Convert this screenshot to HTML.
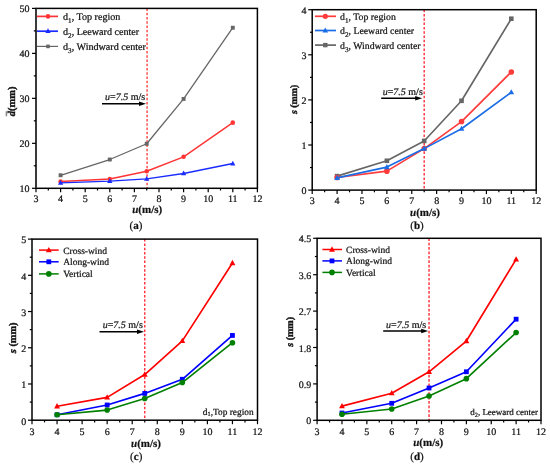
<!DOCTYPE html>
<html><head><meta charset="utf-8"><style>
html,body{margin:0;padding:0;background:#fff;}
body{width:550px;height:467px;overflow:hidden;}
svg{display:block;will-change:transform;}
text{font-family:"Liberation Serif", serif;fill:#111;stroke:#111;stroke-width:0.22px;text-rendering:geometricPrecision;}
</style></head><body>
<svg width="550" height="467" viewBox="0 0 550 467">
<rect width="550" height="467" fill="#fff"/>
<line x1="147.10" y1="8.40" x2="147.10" y2="188.30" stroke="#ff6464" stroke-width="1.7" stroke-dasharray="2.5,1.75"/>
<polyline points="60.60,175.26 109.80,159.52 146.70,143.77 183.60,98.93 232.80,27.74" fill="none" stroke="#666666" stroke-width="1.3" stroke-linejoin="round"/>
<rect x="58.65" y="173.31" width="3.90" height="3.90" fill="#666666"/>
<rect x="107.85" y="157.57" width="3.90" height="3.90" fill="#666666"/>
<rect x="144.75" y="141.82" width="3.90" height="3.90" fill="#666666"/>
<rect x="181.65" y="96.98" width="3.90" height="3.90" fill="#666666"/>
<rect x="230.85" y="25.79" width="3.90" height="3.90" fill="#666666"/>
<polyline points="60.60,181.55 109.80,179.08 146.70,171.21 183.60,156.82 232.80,122.64" fill="none" stroke="#ff3535" stroke-width="1.45" stroke-linejoin="round"/>
<circle cx="60.60" cy="181.55" r="2.30" fill="#ff3535"/>
<circle cx="109.80" cy="179.08" r="2.30" fill="#ff3535"/>
<circle cx="146.70" cy="171.21" r="2.30" fill="#ff3535"/>
<circle cx="183.60" cy="156.82" r="2.30" fill="#ff3535"/>
<circle cx="232.80" cy="122.64" r="2.30" fill="#ff3535"/>
<polyline points="60.60,182.90 109.80,181.10 146.70,178.86 183.60,173.46 232.80,163.56" fill="none" stroke="#1a2cff" stroke-width="1.45" stroke-linejoin="round"/>
<path d="M60.60,180.05 L63.22,184.80 L57.97,184.80 Z" fill="#1a2cff"/>
<path d="M109.80,178.25 L112.42,183.00 L107.17,183.00 Z" fill="#1a2cff"/>
<path d="M146.70,176.01 L149.32,180.76 L144.07,180.76 Z" fill="#1a2cff"/>
<path d="M183.60,170.61 L186.22,175.36 L180.97,175.36 Z" fill="#1a2cff"/>
<path d="M232.80,160.71 L235.42,165.46 L230.17,165.46 Z" fill="#1a2cff"/>
<rect x="36.00" y="8.40" width="221.40" height="179.90" fill="none" stroke="#000" stroke-width="1.5"/>
<line x1="36.00" y1="8.40" x2="36.00" y2="188.30" stroke="#3a3a3a" stroke-width="1.9"/>
<line x1="36.00" y1="188.30" x2="36.00" y2="192.30" stroke="#000" stroke-width="1.2"/>
<line x1="48.30" y1="188.30" x2="48.30" y2="190.50" stroke="#000" stroke-width="1.2"/>
<line x1="60.60" y1="188.30" x2="60.60" y2="192.30" stroke="#000" stroke-width="1.2"/>
<line x1="72.90" y1="188.30" x2="72.90" y2="190.50" stroke="#000" stroke-width="1.2"/>
<line x1="85.20" y1="188.30" x2="85.20" y2="192.30" stroke="#000" stroke-width="1.2"/>
<line x1="97.50" y1="188.30" x2="97.50" y2="190.50" stroke="#000" stroke-width="1.2"/>
<line x1="109.80" y1="188.30" x2="109.80" y2="192.30" stroke="#000" stroke-width="1.2"/>
<line x1="122.10" y1="188.30" x2="122.10" y2="190.50" stroke="#000" stroke-width="1.2"/>
<line x1="134.40" y1="188.30" x2="134.40" y2="192.30" stroke="#000" stroke-width="1.2"/>
<line x1="146.70" y1="188.30" x2="146.70" y2="190.50" stroke="#000" stroke-width="1.2"/>
<line x1="159.00" y1="188.30" x2="159.00" y2="192.30" stroke="#000" stroke-width="1.2"/>
<line x1="171.30" y1="188.30" x2="171.30" y2="190.50" stroke="#000" stroke-width="1.2"/>
<line x1="183.60" y1="188.30" x2="183.60" y2="192.30" stroke="#000" stroke-width="1.2"/>
<line x1="195.90" y1="188.30" x2="195.90" y2="190.50" stroke="#000" stroke-width="1.2"/>
<line x1="208.20" y1="188.30" x2="208.20" y2="192.30" stroke="#000" stroke-width="1.2"/>
<line x1="220.50" y1="188.30" x2="220.50" y2="190.50" stroke="#000" stroke-width="1.2"/>
<line x1="232.80" y1="188.30" x2="232.80" y2="192.30" stroke="#000" stroke-width="1.2"/>
<line x1="245.10" y1="188.30" x2="245.10" y2="190.50" stroke="#000" stroke-width="1.2"/>
<line x1="257.40" y1="188.30" x2="257.40" y2="192.30" stroke="#000" stroke-width="1.2"/>
<line x1="36.00" y1="188.30" x2="32.00" y2="188.30" stroke="#000" stroke-width="1.2"/>
<line x1="36.00" y1="165.81" x2="33.80" y2="165.81" stroke="#000" stroke-width="1.2"/>
<line x1="36.00" y1="143.33" x2="32.00" y2="143.33" stroke="#000" stroke-width="1.2"/>
<line x1="36.00" y1="120.84" x2="33.80" y2="120.84" stroke="#000" stroke-width="1.2"/>
<line x1="36.00" y1="98.35" x2="32.00" y2="98.35" stroke="#000" stroke-width="1.2"/>
<line x1="36.00" y1="75.86" x2="33.80" y2="75.86" stroke="#000" stroke-width="1.2"/>
<line x1="36.00" y1="53.38" x2="32.00" y2="53.38" stroke="#000" stroke-width="1.2"/>
<line x1="36.00" y1="30.89" x2="33.80" y2="30.89" stroke="#000" stroke-width="1.2"/>
<line x1="36.00" y1="8.40" x2="32.00" y2="8.40" stroke="#000" stroke-width="1.2"/>
<text x="36.00" y="202.20" text-anchor="middle" font-size="10">3</text>
<text x="60.60" y="202.20" text-anchor="middle" font-size="10">4</text>
<text x="85.20" y="202.20" text-anchor="middle" font-size="10">5</text>
<text x="109.80" y="202.20" text-anchor="middle" font-size="10">6</text>
<text x="134.40" y="202.20" text-anchor="middle" font-size="10">7</text>
<text x="159.00" y="202.20" text-anchor="middle" font-size="10">8</text>
<text x="183.60" y="202.20" text-anchor="middle" font-size="10">9</text>
<text x="208.20" y="202.20" text-anchor="middle" font-size="10">10</text>
<text x="232.80" y="202.20" text-anchor="middle" font-size="10">11</text>
<text x="257.40" y="202.20" text-anchor="middle" font-size="10">12</text>
<text x="29.60" y="191.70" text-anchor="end" font-size="10">10</text>
<text x="29.60" y="146.73" text-anchor="end" font-size="10">20</text>
<text x="29.60" y="101.75" text-anchor="end" font-size="10">30</text>
<text x="29.60" y="56.77" text-anchor="end" font-size="10">40</text>
<text x="29.60" y="11.80" text-anchor="end" font-size="10">50</text>
<text x="147.20" y="213.20" text-anchor="middle" font-size="11" font-weight="bold"><tspan font-style="italic">u</tspan>(m/s)</text>
<g transform="translate(15.40,101.30) rotate(-90)"><text text-anchor="middle" font-size="10.5" font-weight="bold" style="stroke-width:0.4px"><tspan font-style="italic">d</tspan>(mm)</text><line x1="-15.0" y1="-9.0" x2="-9.9" y2="-9.0" stroke="#8a8a8a" stroke-width="1.5"/></g>
<text x="136.00" y="229.30" text-anchor="middle" font-size="11">(<tspan font-weight="bold">a</tspan>)</text>
<line x1="102.00" y1="103.80" x2="141.00" y2="103.80" stroke="#000" stroke-width="1.6"/>
<path d="M146.00,103.80 L139.00,101.50 L139.00,106.10 Z" fill="#000"/>
<text x="105.00" y="100.40" font-size="10"><tspan font-style="italic">u</tspan>=<tspan font-style="italic">7.5</tspan> m/s</text>
<line x1="37.00" y1="16.40" x2="58.00" y2="16.40" stroke="#ff3535" stroke-width="1.7"/>
<circle cx="48.00" cy="16.40" r="2.30" fill="#ff3535"/>
<text x="63.00" y="19.80" font-size="10.1" font-family='"Liberation Serif", serif'>d<tspan font-size="7.2" dy="3.1">1</tspan><tspan dy="-3.1">, Top region</tspan></text>
<line x1="37.00" y1="31.20" x2="58.00" y2="31.20" stroke="#1a2cff" stroke-width="1.7"/>
<path d="M48.00,28.35 L50.62,33.10 L45.38,33.10 Z" fill="#1a2cff"/>
<text x="63.00" y="34.60" font-size="10.1" font-family='"Liberation Serif", serif'>d<tspan font-size="7.2" dy="3.1">2</tspan><tspan dy="-3.1">, Leeward center</tspan></text>
<line x1="37.00" y1="46.40" x2="58.00" y2="46.40" stroke="#666666" stroke-width="1.2"/>
<rect x="46.20" y="44.60" width="3.60" height="3.60" fill="#666666"/>
<text x="63.00" y="49.80" font-size="10.1" font-family='"Liberation Serif", serif'>d<tspan font-size="7.2" dy="3.1">3</tspan><tspan dy="-3.1">, Windward center</tspan></text>
<line x1="424.20" y1="9.70" x2="424.20" y2="190.10" stroke="#ff3340" stroke-width="1.45" stroke-dasharray="2.5,1.8"/>
<polyline points="337.09,176.12 386.87,160.78 424.20,140.94 461.53,100.80 511.31,18.72" fill="none" stroke="#666666" stroke-width="1.65" stroke-linejoin="round"/>
<rect x="334.79" y="173.82" width="4.60" height="4.60" fill="#666666"/>
<rect x="384.57" y="158.48" width="4.60" height="4.60" fill="#666666"/>
<rect x="421.90" y="138.64" width="4.60" height="4.60" fill="#666666"/>
<rect x="459.23" y="98.50" width="4.60" height="4.60" fill="#666666"/>
<rect x="509.01" y="16.42" width="4.60" height="4.60" fill="#666666"/>
<polyline points="337.09,177.47 386.87,171.16 424.20,148.61 461.53,121.55 511.31,71.94" fill="none" stroke="#ff3b3b" stroke-width="1.65" stroke-linejoin="round"/>
<circle cx="337.09" cy="177.47" r="2.80" fill="#ff3b3b"/>
<circle cx="386.87" cy="171.16" r="2.80" fill="#ff3b3b"/>
<circle cx="424.20" cy="148.61" r="2.80" fill="#ff3b3b"/>
<circle cx="461.53" cy="121.55" r="2.80" fill="#ff3b3b"/>
<circle cx="511.31" cy="71.94" r="2.80" fill="#ff3b3b"/>
<polyline points="337.09,177.92 386.87,167.10 424.20,148.61 461.53,128.76 511.31,92.23" fill="none" stroke="#1b6de6" stroke-width="1.65" stroke-linejoin="round"/>
<path d="M337.09,174.84 L339.92,179.97 L334.25,179.97 Z" fill="#1b6de6"/>
<path d="M386.87,164.02 L389.70,169.15 L384.03,169.15 Z" fill="#1b6de6"/>
<path d="M424.20,145.53 L427.04,150.66 L421.37,150.66 Z" fill="#1b6de6"/>
<path d="M461.53,125.69 L464.37,130.82 L458.70,130.82 Z" fill="#1b6de6"/>
<path d="M511.31,89.15 L514.15,94.28 L508.48,94.28 Z" fill="#1b6de6"/>
<rect x="312.20" y="9.70" width="224.00" height="180.40" fill="none" stroke="#000" stroke-width="1.5"/>
<line x1="312.20" y1="190.10" x2="312.20" y2="194.10" stroke="#000" stroke-width="1.2"/>
<line x1="324.64" y1="190.10" x2="324.64" y2="192.30" stroke="#000" stroke-width="1.2"/>
<line x1="337.09" y1="190.10" x2="337.09" y2="194.10" stroke="#000" stroke-width="1.2"/>
<line x1="349.53" y1="190.10" x2="349.53" y2="192.30" stroke="#000" stroke-width="1.2"/>
<line x1="361.98" y1="190.10" x2="361.98" y2="194.10" stroke="#000" stroke-width="1.2"/>
<line x1="374.42" y1="190.10" x2="374.42" y2="192.30" stroke="#000" stroke-width="1.2"/>
<line x1="386.87" y1="190.10" x2="386.87" y2="194.10" stroke="#000" stroke-width="1.2"/>
<line x1="399.31" y1="190.10" x2="399.31" y2="192.30" stroke="#000" stroke-width="1.2"/>
<line x1="411.76" y1="190.10" x2="411.76" y2="194.10" stroke="#000" stroke-width="1.2"/>
<line x1="424.20" y1="190.10" x2="424.20" y2="192.30" stroke="#000" stroke-width="1.2"/>
<line x1="436.64" y1="190.10" x2="436.64" y2="194.10" stroke="#000" stroke-width="1.2"/>
<line x1="449.09" y1="190.10" x2="449.09" y2="192.30" stroke="#000" stroke-width="1.2"/>
<line x1="461.53" y1="190.10" x2="461.53" y2="194.10" stroke="#000" stroke-width="1.2"/>
<line x1="473.98" y1="190.10" x2="473.98" y2="192.30" stroke="#000" stroke-width="1.2"/>
<line x1="486.42" y1="190.10" x2="486.42" y2="194.10" stroke="#000" stroke-width="1.2"/>
<line x1="498.87" y1="190.10" x2="498.87" y2="192.30" stroke="#000" stroke-width="1.2"/>
<line x1="511.31" y1="190.10" x2="511.31" y2="194.10" stroke="#000" stroke-width="1.2"/>
<line x1="523.76" y1="190.10" x2="523.76" y2="192.30" stroke="#000" stroke-width="1.2"/>
<line x1="536.20" y1="190.10" x2="536.20" y2="194.10" stroke="#000" stroke-width="1.2"/>
<line x1="312.20" y1="190.10" x2="308.20" y2="190.10" stroke="#000" stroke-width="1.2"/>
<line x1="312.20" y1="167.55" x2="310.00" y2="167.55" stroke="#000" stroke-width="1.2"/>
<line x1="312.20" y1="145.00" x2="308.20" y2="145.00" stroke="#000" stroke-width="1.2"/>
<line x1="312.20" y1="122.45" x2="310.00" y2="122.45" stroke="#000" stroke-width="1.2"/>
<line x1="312.20" y1="99.90" x2="308.20" y2="99.90" stroke="#000" stroke-width="1.2"/>
<line x1="312.20" y1="77.35" x2="310.00" y2="77.35" stroke="#000" stroke-width="1.2"/>
<line x1="312.20" y1="54.80" x2="308.20" y2="54.80" stroke="#000" stroke-width="1.2"/>
<line x1="312.20" y1="32.25" x2="310.00" y2="32.25" stroke="#000" stroke-width="1.2"/>
<line x1="312.20" y1="9.70" x2="308.20" y2="9.70" stroke="#000" stroke-width="1.2"/>
<text x="312.20" y="204.30" text-anchor="middle" font-size="10">3</text>
<text x="337.09" y="204.30" text-anchor="middle" font-size="10">4</text>
<text x="361.98" y="204.30" text-anchor="middle" font-size="10">5</text>
<text x="386.87" y="204.30" text-anchor="middle" font-size="10">6</text>
<text x="411.76" y="204.30" text-anchor="middle" font-size="10">7</text>
<text x="436.64" y="204.30" text-anchor="middle" font-size="10">8</text>
<text x="461.53" y="204.30" text-anchor="middle" font-size="10">9</text>
<text x="486.42" y="204.30" text-anchor="middle" font-size="10">10</text>
<text x="511.31" y="204.30" text-anchor="middle" font-size="10">11</text>
<text x="536.20" y="204.30" text-anchor="middle" font-size="10">12</text>
<text x="306.40" y="194.20" text-anchor="end" font-size="10">0</text>
<text x="306.40" y="149.10" text-anchor="end" font-size="10">1</text>
<text x="306.40" y="104.00" text-anchor="end" font-size="10">2</text>
<text x="306.40" y="58.90" text-anchor="end" font-size="10">3</text>
<text x="306.40" y="13.80" text-anchor="end" font-size="10">4</text>
<text x="425.00" y="215.50" text-anchor="middle" font-size="11" font-weight="bold"><tspan font-style="italic">u</tspan>(m/s)</text>
<text transform="translate(296.80,99.40) rotate(-90)" text-anchor="middle" font-size="9.8" font-weight="bold" style="stroke-width:0.4px"><tspan font-style="italic">s</tspan> (mm)</text>
<text x="417.00" y="228.60" text-anchor="middle" font-size="11">(<tspan font-weight="bold">b</tspan>)</text>
<line x1="381.20" y1="98.20" x2="417.20" y2="98.20" stroke="#000" stroke-width="1.6"/>
<path d="M422.20,98.20 L415.20,95.90 L415.20,100.50 Z" fill="#000"/>
<text x="382.70" y="95.00" font-size="10"><tspan font-style="italic">u</tspan>=<tspan font-style="italic">7.5</tspan> m/s</text>
<line x1="315.00" y1="16.30" x2="336.00" y2="16.30" stroke="#ff3b3b" stroke-width="1.7"/>
<circle cx="325.30" cy="16.30" r="2.60" fill="#ff3b3b"/>
<text x="340.00" y="19.70" font-size="9.8" font-family='"Liberation Serif", serif'>d<tspan font-size="7.2" dy="3.1">1</tspan><tspan dy="-3.1">, Top region</tspan></text>
<line x1="315.00" y1="30.50" x2="336.00" y2="30.50" stroke="#1b6de6" stroke-width="1.7"/>
<path d="M325.30,27.42 L328.13,32.55 L322.47,32.55 Z" fill="#1b6de6"/>
<text x="340.00" y="33.90" font-size="9.8" font-family='"Liberation Serif", serif'>d<tspan font-size="7.2" dy="3.1">2</tspan><tspan dy="-3.1">, Leeward center</tspan></text>
<line x1="315.00" y1="45.10" x2="336.00" y2="45.10" stroke="#666666" stroke-width="1.7"/>
<rect x="323.10" y="42.90" width="4.40" height="4.40" fill="#666666"/>
<text x="340.00" y="48.50" font-size="9.8" font-family='"Liberation Serif", serif'>d<tspan font-size="7.2" dy="3.1">3</tspan><tspan dy="-3.1">, Windward center</tspan></text>
<line x1="144.75" y1="239.10" x2="144.75" y2="420.20" stroke="#ff3340" stroke-width="1.45" stroke-dasharray="2.5,1.8"/>
<polyline points="57.06,406.26 107.17,397.38 144.75,374.56 182.33,340.88 232.44,263.01" fill="none" stroke="#ff0000" stroke-width="1.65" stroke-linejoin="round"/>
<path d="M57.06,403.06 L60.00,408.38 L54.12,408.38 Z" fill="#ff0000"/>
<path d="M107.17,394.19 L110.11,399.51 L104.23,399.51 Z" fill="#ff0000"/>
<path d="M144.75,371.37 L147.69,376.69 L141.81,376.69 Z" fill="#ff0000"/>
<path d="M182.33,337.69 L185.27,343.01 L179.39,343.01 Z" fill="#ff0000"/>
<path d="M232.44,259.81 L235.38,265.13 L229.50,265.13 Z" fill="#ff0000"/>
<polyline points="57.06,414.77 107.17,404.99 144.75,393.40 182.33,379.27 232.44,335.45" fill="none" stroke="#0000ff" stroke-width="1.65" stroke-linejoin="round"/>
<rect x="54.66" y="412.37" width="4.80" height="4.80" fill="#0000ff"/>
<rect x="104.77" y="402.59" width="4.80" height="4.80" fill="#0000ff"/>
<rect x="142.35" y="391.00" width="4.80" height="4.80" fill="#0000ff"/>
<rect x="179.93" y="376.87" width="4.80" height="4.80" fill="#0000ff"/>
<rect x="230.04" y="333.05" width="4.80" height="4.80" fill="#0000ff"/>
<polyline points="57.06,414.77 107.17,410.06 144.75,398.47 182.33,382.53 232.44,342.69" fill="none" stroke="#008000" stroke-width="1.65" stroke-linejoin="round"/>
<circle cx="57.06" cy="414.77" r="2.80" fill="#008000"/>
<circle cx="107.17" cy="410.06" r="2.80" fill="#008000"/>
<circle cx="144.75" cy="398.47" r="2.80" fill="#008000"/>
<circle cx="182.33" cy="382.53" r="2.80" fill="#008000"/>
<circle cx="232.44" cy="342.69" r="2.80" fill="#008000"/>
<rect x="32.00" y="239.10" width="225.50" height="181.10" fill="none" stroke="#000" stroke-width="1.5"/>
<line x1="32.00" y1="420.20" x2="32.00" y2="424.20" stroke="#000" stroke-width="1.2"/>
<line x1="44.53" y1="420.20" x2="44.53" y2="422.40" stroke="#000" stroke-width="1.2"/>
<line x1="57.06" y1="420.20" x2="57.06" y2="424.20" stroke="#000" stroke-width="1.2"/>
<line x1="69.58" y1="420.20" x2="69.58" y2="422.40" stroke="#000" stroke-width="1.2"/>
<line x1="82.11" y1="420.20" x2="82.11" y2="424.20" stroke="#000" stroke-width="1.2"/>
<line x1="94.64" y1="420.20" x2="94.64" y2="422.40" stroke="#000" stroke-width="1.2"/>
<line x1="107.17" y1="420.20" x2="107.17" y2="424.20" stroke="#000" stroke-width="1.2"/>
<line x1="119.69" y1="420.20" x2="119.69" y2="422.40" stroke="#000" stroke-width="1.2"/>
<line x1="132.22" y1="420.20" x2="132.22" y2="424.20" stroke="#000" stroke-width="1.2"/>
<line x1="144.75" y1="420.20" x2="144.75" y2="422.40" stroke="#000" stroke-width="1.2"/>
<line x1="157.28" y1="420.20" x2="157.28" y2="424.20" stroke="#000" stroke-width="1.2"/>
<line x1="169.81" y1="420.20" x2="169.81" y2="422.40" stroke="#000" stroke-width="1.2"/>
<line x1="182.33" y1="420.20" x2="182.33" y2="424.20" stroke="#000" stroke-width="1.2"/>
<line x1="194.86" y1="420.20" x2="194.86" y2="422.40" stroke="#000" stroke-width="1.2"/>
<line x1="207.39" y1="420.20" x2="207.39" y2="424.20" stroke="#000" stroke-width="1.2"/>
<line x1="219.92" y1="420.20" x2="219.92" y2="422.40" stroke="#000" stroke-width="1.2"/>
<line x1="232.44" y1="420.20" x2="232.44" y2="424.20" stroke="#000" stroke-width="1.2"/>
<line x1="244.97" y1="420.20" x2="244.97" y2="422.40" stroke="#000" stroke-width="1.2"/>
<line x1="257.50" y1="420.20" x2="257.50" y2="424.20" stroke="#000" stroke-width="1.2"/>
<line x1="32.00" y1="420.20" x2="28.00" y2="420.20" stroke="#000" stroke-width="1.2"/>
<line x1="32.00" y1="402.09" x2="29.80" y2="402.09" stroke="#000" stroke-width="1.2"/>
<line x1="32.00" y1="383.98" x2="28.00" y2="383.98" stroke="#000" stroke-width="1.2"/>
<line x1="32.00" y1="365.87" x2="29.80" y2="365.87" stroke="#000" stroke-width="1.2"/>
<line x1="32.00" y1="347.76" x2="28.00" y2="347.76" stroke="#000" stroke-width="1.2"/>
<line x1="32.00" y1="329.65" x2="29.80" y2="329.65" stroke="#000" stroke-width="1.2"/>
<line x1="32.00" y1="311.54" x2="28.00" y2="311.54" stroke="#000" stroke-width="1.2"/>
<line x1="32.00" y1="293.43" x2="29.80" y2="293.43" stroke="#000" stroke-width="1.2"/>
<line x1="32.00" y1="275.32" x2="28.00" y2="275.32" stroke="#000" stroke-width="1.2"/>
<line x1="32.00" y1="257.21" x2="29.80" y2="257.21" stroke="#000" stroke-width="1.2"/>
<line x1="32.00" y1="239.10" x2="28.00" y2="239.10" stroke="#000" stroke-width="1.2"/>
<text x="32.00" y="434.60" text-anchor="middle" font-size="10">3</text>
<text x="57.06" y="434.60" text-anchor="middle" font-size="10">4</text>
<text x="82.11" y="434.60" text-anchor="middle" font-size="10">5</text>
<text x="107.17" y="434.60" text-anchor="middle" font-size="10">6</text>
<text x="132.22" y="434.60" text-anchor="middle" font-size="10">7</text>
<text x="157.28" y="434.60" text-anchor="middle" font-size="10">8</text>
<text x="182.33" y="434.60" text-anchor="middle" font-size="10">9</text>
<text x="207.39" y="434.60" text-anchor="middle" font-size="10">10</text>
<text x="232.44" y="434.60" text-anchor="middle" font-size="10">11</text>
<text x="257.50" y="434.60" text-anchor="middle" font-size="10">12</text>
<text x="26.20" y="424.50" text-anchor="end" font-size="10">0</text>
<text x="26.20" y="388.28" text-anchor="end" font-size="10">1</text>
<text x="26.20" y="352.06" text-anchor="end" font-size="10">2</text>
<text x="26.20" y="315.84" text-anchor="end" font-size="10">3</text>
<text x="26.20" y="279.62" text-anchor="end" font-size="10">4</text>
<text x="26.20" y="243.40" text-anchor="end" font-size="10">5</text>
<text x="146.00" y="446.50" text-anchor="middle" font-size="11" font-weight="bold"><tspan font-style="italic">u</tspan>(m/s)</text>
<text transform="translate(15.80,337.90) rotate(-90)" text-anchor="middle" font-size="10.3" font-weight="bold" style="stroke-width:0.4px"><tspan font-style="italic">s</tspan> (mm)</text>
<text x="136.20" y="460.10" text-anchor="middle" font-size="11">(<tspan font-weight="bold">c</tspan>)</text>
<line x1="99.50" y1="331.80" x2="139.00" y2="331.80" stroke="#000" stroke-width="1.6"/>
<path d="M144.00,331.80 L137.00,329.50 L137.00,334.10 Z" fill="#000"/>
<text x="102.70" y="328.40" font-size="10"><tspan font-style="italic">u</tspan>=<tspan font-style="italic">7.5</tspan> m/s</text>
<line x1="39.00" y1="250.10" x2="58.70" y2="250.10" stroke="#ff0000" stroke-width="1.5"/>
<path d="M48.80,246.91 L51.74,252.23 L45.86,252.23 Z" fill="#ff0000"/>
<text x="63.20" y="253.50" font-size="9.5" font-family='"Liberation Serif", serif'>Cross-wind</text>
<line x1="39.00" y1="261.80" x2="58.70" y2="261.80" stroke="#0000ff" stroke-width="1.5"/>
<rect x="46.40" y="259.40" width="4.80" height="4.80" fill="#0000ff"/>
<text x="63.20" y="265.20" font-size="9.5" font-family='"Liberation Serif", serif'>Along-wind</text>
<line x1="39.00" y1="273.90" x2="58.70" y2="273.90" stroke="#008000" stroke-width="1.5"/>
<circle cx="48.80" cy="273.90" r="2.80" fill="#008000"/>
<text x="63.20" y="277.30" font-size="9.5" font-family='"Liberation Serif", serif'>Vertical</text>
<text x="253.6" y="414.6" text-anchor="end" font-size="9.35">d<tspan font-size="6.3" dy="1.8">1</tspan><tspan dy="-1.8">,Top region</tspan></text>
<line x1="429.05" y1="238.30" x2="429.05" y2="420.30" stroke="#ff3a45" stroke-width="1.5" stroke-dasharray="2.7,1.7"/>
<polyline points="341.98,406.14 391.73,393.20 429.05,371.77 466.37,341.03 516.12,259.33" fill="none" stroke="#ff0000" stroke-width="1.65" stroke-linejoin="round"/>
<path d="M341.98,402.95 L344.92,408.27 L339.04,408.27 Z" fill="#ff0000"/>
<path d="M391.73,390.01 L394.67,395.33 L388.79,395.33 Z" fill="#ff0000"/>
<path d="M429.05,368.57 L431.99,373.89 L426.11,373.89 Z" fill="#ff0000"/>
<path d="M466.37,337.84 L469.31,343.16 L463.43,343.16 Z" fill="#ff0000"/>
<path d="M516.12,256.14 L519.06,261.46 L513.18,261.46 Z" fill="#ff0000"/>
<polyline points="341.98,413.02 391.73,403.31 429.05,387.94 466.37,371.77 516.12,319.19" fill="none" stroke="#0000ff" stroke-width="1.65" stroke-linejoin="round"/>
<rect x="339.58" y="410.62" width="4.80" height="4.80" fill="#0000ff"/>
<rect x="389.33" y="400.91" width="4.80" height="4.80" fill="#0000ff"/>
<rect x="426.65" y="385.54" width="4.80" height="4.80" fill="#0000ff"/>
<rect x="463.97" y="369.37" width="4.80" height="4.80" fill="#0000ff"/>
<rect x="513.72" y="316.79" width="4.80" height="4.80" fill="#0000ff"/>
<polyline points="341.98,414.23 391.73,408.98 429.05,396.03 466.37,378.64 516.12,332.54" fill="none" stroke="#008000" stroke-width="1.65" stroke-linejoin="round"/>
<circle cx="341.98" cy="414.23" r="2.80" fill="#008000"/>
<circle cx="391.73" cy="408.98" r="2.80" fill="#008000"/>
<circle cx="429.05" cy="396.03" r="2.80" fill="#008000"/>
<circle cx="466.37" cy="378.64" r="2.80" fill="#008000"/>
<circle cx="516.12" cy="332.54" r="2.80" fill="#008000"/>
<rect x="317.10" y="238.30" width="223.90" height="182.00" fill="none" stroke="#000" stroke-width="1.5"/>
<line x1="317.10" y1="420.30" x2="317.10" y2="424.30" stroke="#000" stroke-width="1.2"/>
<line x1="329.54" y1="420.30" x2="329.54" y2="422.50" stroke="#000" stroke-width="1.2"/>
<line x1="341.98" y1="420.30" x2="341.98" y2="424.30" stroke="#000" stroke-width="1.2"/>
<line x1="354.42" y1="420.30" x2="354.42" y2="422.50" stroke="#000" stroke-width="1.2"/>
<line x1="366.86" y1="420.30" x2="366.86" y2="424.30" stroke="#000" stroke-width="1.2"/>
<line x1="379.29" y1="420.30" x2="379.29" y2="422.50" stroke="#000" stroke-width="1.2"/>
<line x1="391.73" y1="420.30" x2="391.73" y2="424.30" stroke="#000" stroke-width="1.2"/>
<line x1="404.17" y1="420.30" x2="404.17" y2="422.50" stroke="#000" stroke-width="1.2"/>
<line x1="416.61" y1="420.30" x2="416.61" y2="424.30" stroke="#000" stroke-width="1.2"/>
<line x1="429.05" y1="420.30" x2="429.05" y2="422.50" stroke="#000" stroke-width="1.2"/>
<line x1="441.49" y1="420.30" x2="441.49" y2="424.30" stroke="#000" stroke-width="1.2"/>
<line x1="453.93" y1="420.30" x2="453.93" y2="422.50" stroke="#000" stroke-width="1.2"/>
<line x1="466.37" y1="420.30" x2="466.37" y2="424.30" stroke="#000" stroke-width="1.2"/>
<line x1="478.81" y1="420.30" x2="478.81" y2="422.50" stroke="#000" stroke-width="1.2"/>
<line x1="491.24" y1="420.30" x2="491.24" y2="424.30" stroke="#000" stroke-width="1.2"/>
<line x1="503.68" y1="420.30" x2="503.68" y2="422.50" stroke="#000" stroke-width="1.2"/>
<line x1="516.12" y1="420.30" x2="516.12" y2="424.30" stroke="#000" stroke-width="1.2"/>
<line x1="528.56" y1="420.30" x2="528.56" y2="422.50" stroke="#000" stroke-width="1.2"/>
<line x1="541.00" y1="420.30" x2="541.00" y2="424.30" stroke="#000" stroke-width="1.2"/>
<line x1="317.10" y1="420.30" x2="313.10" y2="420.30" stroke="#000" stroke-width="1.2"/>
<line x1="317.10" y1="402.10" x2="314.90" y2="402.10" stroke="#000" stroke-width="1.2"/>
<line x1="317.10" y1="383.90" x2="313.10" y2="383.90" stroke="#000" stroke-width="1.2"/>
<line x1="317.10" y1="365.70" x2="314.90" y2="365.70" stroke="#000" stroke-width="1.2"/>
<line x1="317.10" y1="347.50" x2="313.10" y2="347.50" stroke="#000" stroke-width="1.2"/>
<line x1="317.10" y1="329.30" x2="314.90" y2="329.30" stroke="#000" stroke-width="1.2"/>
<line x1="317.10" y1="311.10" x2="313.10" y2="311.10" stroke="#000" stroke-width="1.2"/>
<line x1="317.10" y1="292.90" x2="314.90" y2="292.90" stroke="#000" stroke-width="1.2"/>
<line x1="317.10" y1="274.70" x2="313.10" y2="274.70" stroke="#000" stroke-width="1.2"/>
<line x1="317.10" y1="256.50" x2="314.90" y2="256.50" stroke="#000" stroke-width="1.2"/>
<line x1="317.10" y1="238.30" x2="313.10" y2="238.30" stroke="#000" stroke-width="1.2"/>
<text x="317.10" y="434.90" text-anchor="middle" font-size="10">3</text>
<text x="341.98" y="434.90" text-anchor="middle" font-size="10">4</text>
<text x="366.86" y="434.90" text-anchor="middle" font-size="10">5</text>
<text x="391.73" y="434.90" text-anchor="middle" font-size="10">6</text>
<text x="416.61" y="434.90" text-anchor="middle" font-size="10">7</text>
<text x="441.49" y="434.90" text-anchor="middle" font-size="10">8</text>
<text x="466.37" y="434.90" text-anchor="middle" font-size="10">9</text>
<text x="491.24" y="434.90" text-anchor="middle" font-size="10">10</text>
<text x="516.12" y="434.90" text-anchor="middle" font-size="10">11</text>
<text x="541.00" y="434.90" text-anchor="middle" font-size="10">12</text>
<text x="311.30" y="424.40" text-anchor="end" font-size="10">0</text>
<text x="311.30" y="388.00" text-anchor="end" font-size="10">0.9</text>
<text x="311.30" y="351.60" text-anchor="end" font-size="10">1.8</text>
<text x="311.30" y="315.20" text-anchor="end" font-size="10">2.7</text>
<text x="311.30" y="278.80" text-anchor="end" font-size="10">3.6</text>
<text x="311.30" y="242.40" text-anchor="end" font-size="10">4.5</text>
<text x="428.20" y="445.60" text-anchor="middle" font-size="11" font-weight="bold"><tspan font-style="italic">u</tspan>(m/s)</text>
<text transform="translate(293.40,331.90) rotate(-90)" text-anchor="middle" font-size="10" font-weight="bold" style="stroke-width:0.4px"><tspan font-style="italic">s</tspan> (mm)</text>
<text x="417.00" y="460.00" text-anchor="middle" font-size="11">(<tspan font-weight="bold">d</tspan>)</text>
<line x1="383.20" y1="331.00" x2="423.20" y2="331.00" stroke="#000" stroke-width="1.6"/>
<path d="M428.20,331.00 L421.20,328.70 L421.20,333.30 Z" fill="#000"/>
<text x="386.00" y="327.50" font-size="10"><tspan font-style="italic">u</tspan>=<tspan font-style="italic">7.5</tspan> m/s</text>
<line x1="322.40" y1="249.50" x2="342.00" y2="249.50" stroke="#ff0000" stroke-width="1.5"/>
<path d="M332.00,246.31 L334.94,251.63 L329.06,251.63 Z" fill="#ff0000"/>
<text x="346.10" y="252.90" font-size="9.5" font-family='"Liberation Serif", serif'>Cross-wind</text>
<line x1="322.40" y1="260.90" x2="342.00" y2="260.90" stroke="#0000ff" stroke-width="1.5"/>
<rect x="329.60" y="258.50" width="4.80" height="4.80" fill="#0000ff"/>
<text x="346.10" y="264.30" font-size="9.5" font-family='"Liberation Serif", serif'>Along-wind</text>
<line x1="322.40" y1="272.40" x2="342.00" y2="272.40" stroke="#008000" stroke-width="1.5"/>
<circle cx="332.00" cy="272.40" r="2.80" fill="#008000"/>
<text x="346.10" y="275.80" font-size="9.5" font-family='"Liberation Serif", serif'>Vertical</text>
<text x="538.1" y="415.3" text-anchor="end" font-size="9">d<tspan font-size="6.3" dy="1.8">2</tspan><tspan dy="-1.8">, Leeward center</tspan></text>
</svg>
</body></html>
